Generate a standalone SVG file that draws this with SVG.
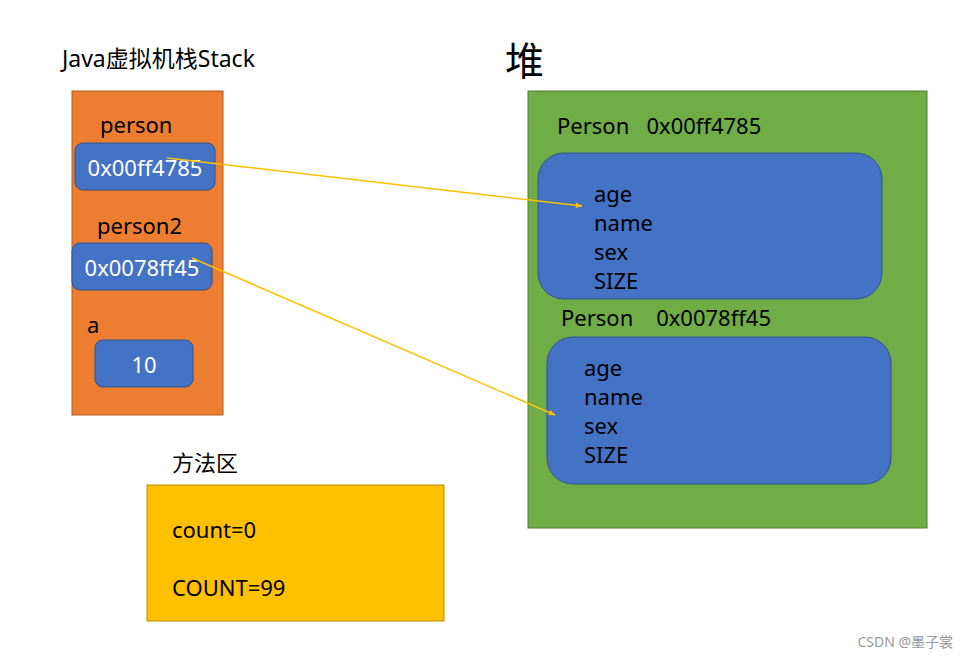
<svg xmlns="http://www.w3.org/2000/svg" width="969" height="658" viewBox="0 0 969 658">
<style>
text{font-family:"Noto Sans","Noto Sans CJK SC",sans-serif;font-size:22px;fill:#000}
.w{fill:#fff}
.blue{fill:#4472C4;stroke:#2F528F;stroke-width:1}
.conn{stroke:#FFC000;stroke-width:1.5;fill:none}
</style>
<defs>
<marker id="ah" viewBox="0 0 10 10" refX="9" refY="5" markerWidth="7" markerHeight="7" orient="auto" markerUnits="userSpaceOnUse">
<path d="M0,1 L10,5 L0,9 Z" fill="#FFC000"/>
</marker>
</defs>
<rect width="969" height="658" fill="#fff"/>
<g id="stack">
<text x="62" y="67" style="font-size:23px">Java虚拟机栈Stack</text>
<rect x="72" y="91" width="151" height="324" fill="#ED7D31" stroke="#AE5A21"/>
<text x="100" y="133">person</text>
<text x="97" y="234">person2</text>
<text x="87" y="333">a</text>
</g>
<g id="ref1">
<rect class="blue" x="75" y="143" width="140" height="47" rx="8"/>
<text class="w" x="145" y="176" text-anchor="middle">0x00ff4785</text>
</g>
<g id="ref2">
<rect class="blue" x="72" y="243" width="140" height="47" rx="8"/>
<text class="w" x="142" y="276" text-anchor="middle">0x0078ff45</text>
</g>
<g id="vala">
<rect class="blue" x="95" y="340" width="98" height="47" rx="8"/>
<text class="w" x="144" y="373" text-anchor="middle">10</text>
</g>
<g id="heap">
<text x="505" y="75" style="font-size:39px">堆</text>
<rect x="528" y="91" width="399" height="437" fill="#70AD47" stroke="#507E32"/>
</g>
<g id="obj1">
<text x="557" y="134" xml:space="preserve">Person   0x00ff4785</text>
<rect class="blue" x="538" y="153" width="344" height="146" rx="26"/>
<text x="594" y="202">age</text>
<text x="594" y="231">name</text>
<text x="594" y="260">sex</text>
<text x="594" y="289">SIZE</text>
</g>
<g id="obj2">
<text x="561" y="326" xml:space="preserve">Person    0x0078ff45</text>
<rect class="blue" x="547" y="337" width="344" height="147" rx="26"/>
<text x="584" y="376">age</text>
<text x="584" y="405">name</text>
<text x="584" y="434">sex</text>
<text x="584" y="463">SIZE</text>
</g>
<g id="method">
<text x="172" y="471">方法区</text>
<rect x="147" y="485" width="297" height="136" fill="#FFC000" stroke="#BC8C00"/>
<text x="172" y="538">count=0</text>
<text x="172" y="596">COUNT=99</text>
</g>
<g id="connectors">
<line class="conn" x1="167" y1="158" x2="582" y2="206" marker-end="url(#ah)"/>
<line class="conn" x1="192" y1="258" x2="555" y2="415" marker-end="url(#ah)"/>
</g>
<text x="953" y="647" text-anchor="end" style="font-size:14px;fill:#999">CSDN @墨子裳</text>
</svg>
